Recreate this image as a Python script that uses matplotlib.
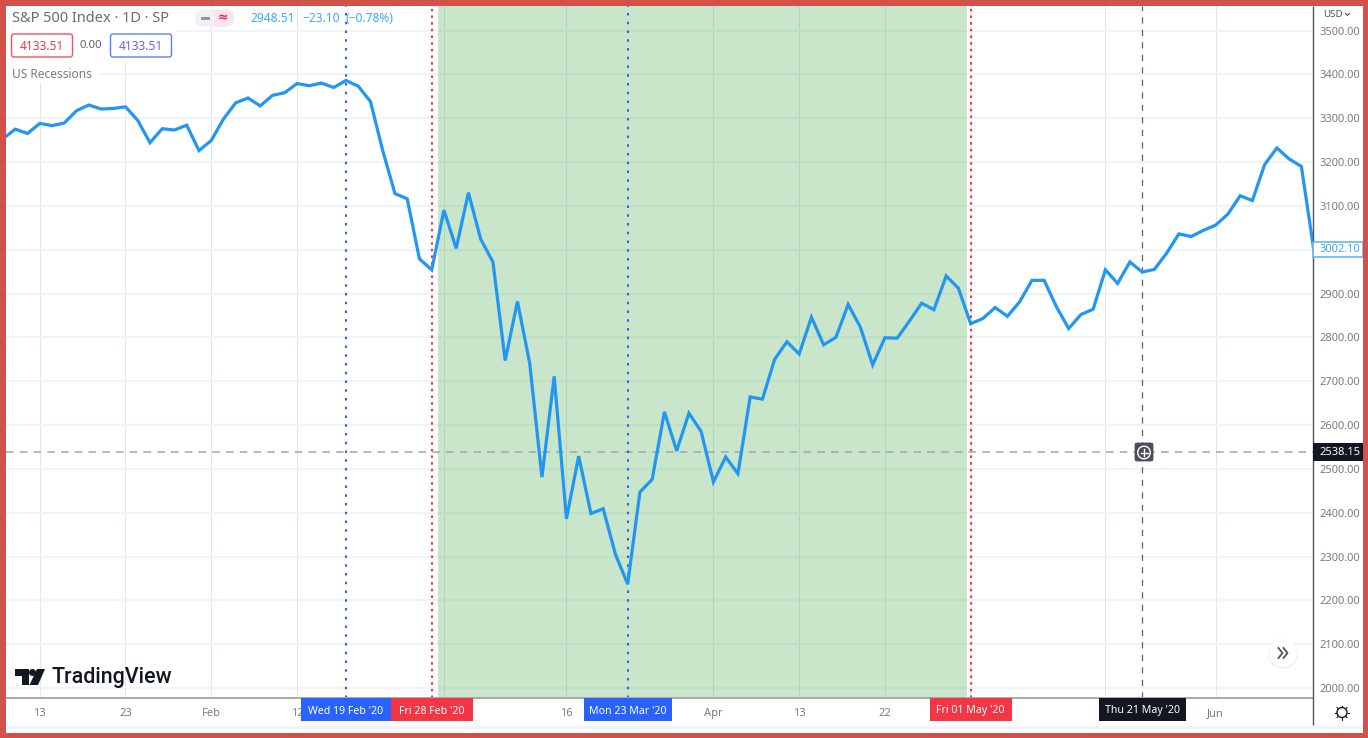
import pandas as pd
import matplotlib
matplotlib.use("Agg")
import matplotlib.pyplot as plt
from matplotlib.patches import Rectangle, FancyBboxPatch, Circle, Polygon

plt.rcParams['font.family'] = ['Noto Sans', 'DejaVu Sans']

# ---- data ----
dates = [
    "01-08", "01-09", "01-10", "01-13", "01-14", "01-15", "01-16", "01-17", "01-21", "01-22",
    "01-23", "01-24", "01-27", "01-28", "01-29", "01-30", "01-31", "02-03", "02-04", "02-05",
    "02-06", "02-07", "02-10", "02-11", "02-12", "02-13", "02-14", "02-18", "02-19", "02-20",
    "02-21", "02-24", "02-25", "02-26", "02-27", "02-28", "03-02", "03-03", "03-04", "03-05",
    "03-06", "03-09", "03-10", "03-11", "03-12", "03-13", "03-16", "03-17", "03-18", "03-19",
    "03-20", "03-23", "03-24", "03-25", "03-26", "03-27", "03-30", "03-31", "04-01", "04-02",
    "04-03", "04-06", "04-07", "04-08", "04-09", "04-13", "04-14", "04-15", "04-16", "04-17",
    "04-20", "04-21", "04-22", "04-23", "04-24", "04-27", "04-28", "04-29", "04-30", "05-01",
    "05-04", "05-05", "05-06", "05-07", "05-08", "05-11", "05-12", "05-13", "05-14", "05-15",
    "05-18", "05-19", "05-20", "05-21", "05-22", "05-26", "05-27", "05-28", "05-29", "06-01",
    "06-02", "06-03", "06-04", "06-05", "06-08", "06-09", "06-10", "06-11",
]
closes = [
    3253, 3275, 3265, 3288, 3283, 3289, 3317, 3330, 3321, 3322,
    3326, 3295, 3244, 3276, 3273, 3284, 3226, 3249, 3298, 3335,
    3346, 3328, 3352, 3358, 3379, 3374, 3380, 3370, 3386, 3373,
    3338, 3226, 3128, 3116, 2979, 2954, 3090, 3003, 3130, 3024,
    2972, 2747, 2882, 2741, 2481, 2711, 2386, 2529, 2398, 2409,
    2305, 2237, 2447, 2476, 2630, 2541, 2627, 2585, 2470, 2527,
    2489, 2664, 2659, 2750, 2790, 2762, 2846, 2783, 2800, 2875,
    2823, 2737, 2799, 2798, 2837, 2878, 2863, 2940, 2912, 2831,
    2843, 2868, 2848, 2881, 2930, 2930, 2870, 2820, 2852, 2864,
    2954, 2923, 2972, 2949, 2955, 2992, 3036, 3030, 3044, 3056,
    3081, 3123, 3112, 3194, 3232, 3207, 3190, 3002.10,
]
# labels that sit under a date tag in the original stay empty, only their grid line shows
tick_dates = ["01-13", "01-23", "02-03", "02-12", "03-02", "03-16", "04-01", "04-13", "04-22", "05-01", "05-18", "06-01"]
tick_labels = ["13", "23", "Feb", "12", "", "16", "Apr", "13", "22", "", "", "Jun"]
price_ticks = [2000, 2100, 2200, 2300, 2400, 2500, 2600, 2700, 2800, 2900, 3000, 3100, 3200, 3300, 3400, 3500]
blue_marks = ["02-19", "03-23"]
red_marks = ["02-28", "05-01"]
cursor_date = "05-21"
cursor_price = 2538.15

W, H = 1368, 738
BLUE = "#2196f3"
RED = "#f23645"
MARK_BLUE = "#2962ff"
DARK = "#131722"
GREY = "#787b86"

df = pd.DataFrame({"date": dates, "close": closes})
pos = {d: i for i, d in enumerate(dates)}

fig = plt.figure(figsize=(W / 100, H / 100), dpi=100, facecolor="white")

# main pane, pixel box 6..1313 / 6..698
ax = fig.add_axes([6 / W, 1 - 698 / H, (1313 - 6) / W, (698 - 6) / H])
ax.set_xlim(0.245, 106.95)
ax.set_ylim(1977.2, 3555.9)
ax.yaxis.tick_right()
ax.set_yticks(price_ticks, [f"{p:.2f}" for p in price_ticks])
ax.set_xticks([pos[d] for d in tick_dates], tick_labels)
ax.tick_params(axis="both", length=0, labelcolor=GREY, labelsize=8)
ax.tick_params(axis="x", pad=7)
ax.tick_params(axis="y", pad=4.5)
for s in ax.spines.values():
    s.set_visible(False)
ax.grid(axis="y", color="#f0f3fa", lw=1.5, zorder=1)
ax.grid(axis="x", color="#e0e6ee", lw=0.7, zorder=1)
ax.set_axisbelow(True)

# recession band
ax.axvspan(35.5, 78.7, color="#4caf50", alpha=0.3, lw=0, zorder=2)

# crosshair
ax.axhline(cursor_price, color="#a3a6af", lw=1.1, dashes=(5, 4), zorder=3)
ax.axvline(pos[cursor_date], color="#5d606b", lw=0.9, dashes=(5, 5), zorder=3)

# date markers
for d in blue_marks:
    ax.axvline(pos[d], color=MARK_BLUE, lw=1.5, dashes=(1.2, 3), zorder=3)
for d in red_marks:
    ax.axvline(pos[d], color=RED, lw=1.5, dashes=(1.2, 2), zorder=3)

ax.plot(df.index, df["close"], color=BLUE, lw=2.3, zorder=4, solid_joinstyle="miter")

# everything around the plot is drawn in pixel coords
ui = fig.add_axes([0, 0, 1, 1], zorder=5)
ui.set_xlim(0, W)
ui.set_ylim(H, 0)
ui.axis("off")


def date_px(d):
    return 39.75 + (pos[d] - 3) * 12.25


# axis lines
ui.plot([6, 1313], [698, 698], color="#a9a9ad", lw=1.4, solid_capstyle="butt")
ui.plot([1313, 1313], [6, 725], color="#50535e", lw=1.0, solid_capstyle="butt")
ui.add_patch(Rectangle((6, 726), 1357, 3, color="#f0f3fa", lw=0))

# legend backing
ui.add_patch(Rectangle((6, 6), 170, 56, color="white", lw=0, zorder=1))
ui.add_patch(Rectangle((6, 62), 94, 21, color="white", lw=0, zorder=1))

ui.text(12, 18, "S&P 500 Index · 1D · SP", fontsize=10.5, color="#6a6d78", va="center", zorder=3)
ui.add_patch(FancyBboxPatch((195, 9.5), 39, 17, boxstyle="round,pad=0,rounding_size=8", fc="#f0f1f4", ec="none", zorder=2))
ui.add_patch(Rectangle((214, 9.5), 12, 17, fc="#fce4ec", lw=0, zorder=2))
ui.add_patch(Circle((225.5, 18), 8.5, fc="#fce4ec", lw=0, zorder=2))
ui.add_patch(Rectangle((200.5, 16.5), 9, 3, fc="#9598a1", lw=0, zorder=3))
ui.text(223, 18, "≈", fontsize=9, color="#e91e63", fontweight="bold", va="center", ha="center", family=["DejaVu Sans"], zorder=3)
ui.text(250, 19, "2948.51", fontsize=8.6, color="#42a5f5", va="center", zorder=3)
ui.text(302, 19, "−23.10", fontsize=8.6, color="#42a5f5", va="center", zorder=3)
ui.text(345, 19, "(−0.78%)", fontsize=8.6, color="#42a5f5", va="center", zorder=3)

ui.add_patch(FancyBboxPatch((11.5, 34), 61, 23, boxstyle="round,pad=0,rounding_size=2.5", fc="white", ec="#f7525f", lw=1, zorder=2))
ui.text(42, 46, "4133.51", fontsize=8.6, color="#f23645", ha="center", va="center", zorder=3)
ui.text(91, 45.5, "0.00", fontsize=8.2, color="#5d606b", ha="center", va="center", zorder=3)
ui.add_patch(FancyBboxPatch((110.5, 34), 61, 23, boxstyle="round,pad=0,rounding_size=2.5", fc="white", ec="#5b7fff", lw=1, zorder=2))
ui.text(141, 46, "4133.51", fontsize=8.6, color="#6a5cff", ha="center", va="center", zorder=3)
ui.text(12, 74, "US Recessions", fontsize=8.6, color="#787b86", va="center", zorder=3)

# logo
ui.add_patch(Polygon([(15, 669), (29, 669), (29, 685), (22, 685), (22, 676), (15, 676)], fc=DARK, lw=0))
ui.add_patch(Circle((32.5, 672.5), 3.5, fc=DARK, lw=0))
ui.add_patch(Polygon([(37, 669), (45, 669), (38, 685), (29.5, 685)], fc=DARK, lw=0))
ui.text(51.5, 677.5, "TradingView", fontsize=15.5, color=DARK, va="center", fontweight="medium", family=["Roboto"], zorder=3)

# date tags
tags = [
    ("Wed 19 Feb '20", "02-19", 91, MARK_BLUE),
    ("Fri 28 Feb '20", "02-28", 82, RED),
    ("Mon 23 Mar '20", "03-23", 88, MARK_BLUE),
    ("Fri 01 May '20", "05-01", 82, RED),
    ("Thu 21 May '20", "05-21", 87, DARK),
]
for text, d, w, col in tags:
    cx = date_px(d)
    ui.add_patch(Rectangle((cx - w / 2, 698), w, 23, fc=col, lw=0, zorder=2))
    ui.text(cx, 711, text, color="white", fontsize=7.6, ha="center", va="center", zorder=3)

# price tags
ui.add_patch(Rectangle((1313, 443), 50, 18, fc=DARK, lw=0, zorder=2))
ui.text(1340, 452.5, f"{cursor_price:.2f}", color="white", fontsize=8, fontweight="bold", ha="center", va="center", zorder=3)
ui.add_patch(Rectangle((1313, 241.5), 50, 15.5, fc="white", ec="#64b5f6", lw=1.2, zorder=2))
ui.text(1340, 250, f"{closes[-1]:.2f}", color="#42a5f5", fontsize=8, ha="center", va="center", zorder=3)

# top right currency
ui.text(1323, 14.5, "USD", color="#50535e", fontsize=7, va="center")
ui.plot([1345.5, 1347.5, 1349.5], [13.5, 15.5, 13.5], color="#50535e", lw=0.8)

# crosshair plus button
ui.add_patch(FancyBboxPatch((1135, 443), 18, 18, boxstyle="round,pad=0,rounding_size=2", fc="#4a4e5a", ec="#4a4e5a", lw=0.6, zorder=2))
ui.add_patch(Circle((1144, 452.5), 6.3, fc="none", ec="white", lw=1, zorder=3))
ui.plot([1140.5, 1147.5], [452.5, 452.5], color="white", lw=1, zorder=3)
ui.plot([1144, 1144], [449, 456], color="white", lw=1, zorder=3)

# scroll button
ui.add_patch(Circle((1283, 654), 15, fc="#eef0f3", lw=0, zorder=2))
ui.add_patch(Circle((1283, 653), 14, fc="white", lw=0, zorder=2))
for off in (0, 5):
    ui.plot([1278.5 + off, 1282.5 + off, 1278.5 + off], [648, 653, 658], color="#50535e", lw=1.3, zorder=3)

# settings sun
ui.add_patch(Circle((1342, 712.5), 5, fc="none", ec=DARK, lw=1))
for dx, dy in [(0, 7), (0, -7), (7, 0), (-7, 0), (5, 5), (-5, 5), (5, -5), (-5, -5)]:
    ui.plot([1342 + dx * 0.8, 1342 + dx], [712.5 + dy * 0.8, 712.5 + dy], color=DARK, lw=0.8)

# red picture frame
for x, y, w, h in [(0, 0, W, 6), (0, H - 5, W, 5), (0, 0, 6, H), (W - 5, 0, 5, H)]:
    ui.add_patch(Rectangle((x, y), w, h, fc="#d2524a", lw=0, zorder=10))

fig.savefig("out.png", dpi=100)
